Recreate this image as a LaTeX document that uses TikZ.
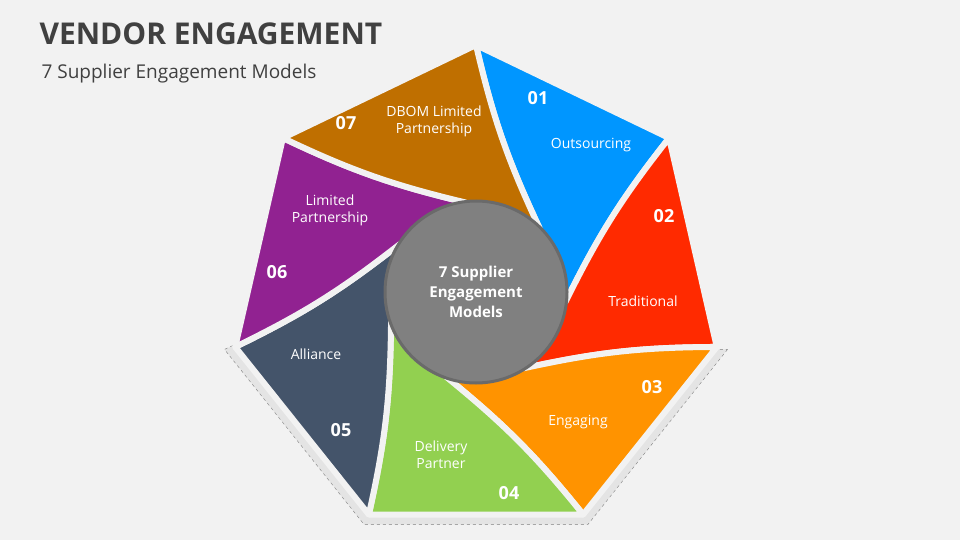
\documentclass[tikz,border=0pt]{standalone}
\usepackage{fontspec}
\setmainfont{Open Sans}
\usetikzlibrary{calc}
\begin{document}
\begin{tikzpicture}[x=1pt,y=-1pt,
  seg/.style={draw=bg,line width=6pt,line join=round},
  lbl/.style={text=white,font=\fontsize{14}{17}\selectfont,align=center},
  num/.style={text=white,font=\bfseries\fontsize{18}{20}\selectfont}]
\definecolor{bg}{HTML}{F2F2F2}
\definecolor{lowg}{HTML}{E4E4E4}
\definecolor{c1}{HTML}{0096FF}
\definecolor{c2}{HTML}{FF2A00}
\definecolor{c3}{HTML}{FF9300}
\definecolor{c4}{HTML}{92D050}
\definecolor{c5}{HTML}{44546A}
\definecolor{c6}{HTML}{912291}
\definecolor{c7}{HTML}{BF6F00}
\definecolor{tg}{HTML}{404040}
\definecolor{cg}{HTML}{808080}
\definecolor{cgd}{HTML}{6A6A6A}
\fill[bg] (0,0) rectangle (960,540);
\useasboundingbox (0,0) rectangle (960,540);
\coordinate (C) at (476,292);
\foreach \i in {0,...,6}{
  \pgfmathsetmacro{\a}{90-51.4286*\i}
  \coordinate (V\i) at ($(C)+({247*cos(\a)},{-247*sin(\a)})$);
  \coordinate (W\i) at ($(C)+({258*cos(\a)},{-258*sin(\a)})$);
  \coordinate (P\i) at ($(C)+({90*cos(\a-45)},{-90*sin(\a-45)})$);
}
\tikzset{bl/.style={bend right=6},br/.style={bend left=6}}
% lower grouping
\filldraw[fill=lowg,draw=gray,dashed] (W2) -- (W3) -- (W4) -- (W5) to[bl] (P5) -- (C) -- (P2) to[br] (W2) -- cycle;
\fill[c1,seg] (V0) -- (V1) to[bl] (P1) -- (C) -- (P0) to[br] (V0) -- cycle;
\fill[c2,seg] (V1) -- (V2) to[bl] (P2) -- (C) -- (P1) to[br] (V1) -- cycle;
\fill[c3,seg] (V2) -- (V3) to[bl] (P3) -- (C) -- (P2) to[br] (V2) -- cycle;
\fill[c4,seg] (V3) -- (V4) to[bl] (P4) -- (C) -- (P3) to[br] (V3) -- cycle;
\fill[c5,seg] (V4) -- (V5) to[bl] (P5) -- (C) -- (P4) to[br] (V4) -- cycle;
\fill[c6,seg] (V5) -- (V6) to[bl] (P6) -- (C) -- (P5) to[br] (V5) -- cycle;
\fill[c7,seg] (V6) -- (V0) to[bl] (P0) -- (C) -- (P6) to[br] (V6) -- cycle;
\node[circle,minimum size=182pt,inner sep=0pt,fill=cg,draw=cgd,line width=3pt,text=white,align=center,font=\bfseries\fontsize{15}{20}\selectfont] (ctr) at (C) {7 Supplier\\Engagement\\Models};
\node[num] (n1) at (538,98) {01};
\node[lbl] (l1) at (591,145) {Outsourcing};
\node[num] (n2) at (664,216) {02};
\node[lbl] (l2) at (643,301) {Traditional};
\node[num] (n3) at (652,387) {03};
\node[lbl] (l3) at (578,422) {Engaging};
\node[num] (n4) at (509,493) {04};
\node[lbl] (l4) at (441,455) {Delivery\\Partner};
\node[num] (n5) at (341,430) {05};
\node[lbl] (l5) at (316,354) {Alliance};
\node[num] (n6) at (277,272) {06};
\node[lbl] (l6) at (330,210) {Limited\\Partnership};
\node[num] (n7) at (346,123) {07};
\node[lbl] (l7) at (434,121) {DBOM Limited\\Partnership};
\node[anchor=west,text=tg,font=\bfseries\fontsize{30}{34}\selectfont] (title) at (36,34) {VENDOR ENGAGEMENT};
\node[anchor=west,text=tg,font=\fontsize{19}{22}\selectfont] (sub) at (38,74) {7 Supplier Engagement Models};
\end{tikzpicture}
\end{document}
